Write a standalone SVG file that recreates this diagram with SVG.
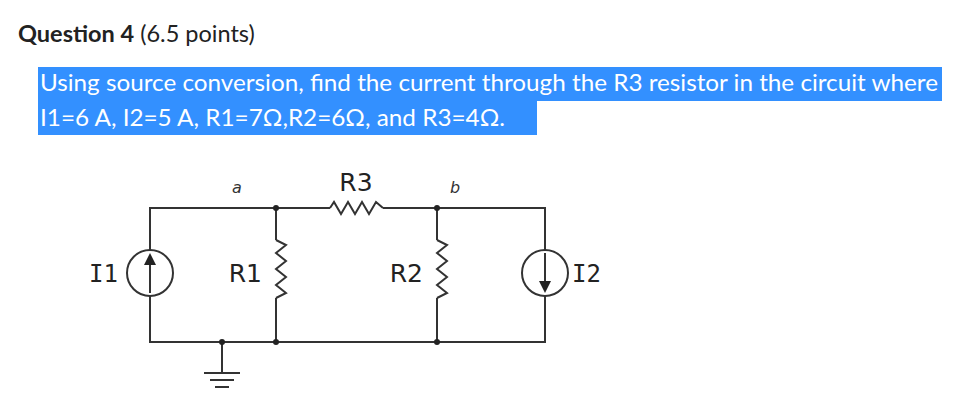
<svg xmlns="http://www.w3.org/2000/svg" width="980" height="403" viewBox="0 0 980 403">
<style>
.w{fill:none;stroke:#333;stroke-width:2}
.lbl{font-family:"DejaVu Sans",sans-serif;font-size:25px;fill:#222}
.mono{font-family:"DejaVu Sans Mono",monospace;font-size:24px;fill:#222}
.q{font-family:Lato,"Liberation Sans",sans-serif;font-size:23.5px}
</style>
<rect width="980" height="403" fill="#fff"/>
<text x="18" y="42" class="q" fill="#222"><tspan font-weight="bold">Question 4</tspan> (6.5 points)</text>
<rect x="38" y="67" width="904" height="34" fill="#3390ff"/>
<rect x="38" y="100" width="499" height="35" fill="#3390ff"/>
<text x="40" y="91" class="q" fill="#fff" textLength="898" lengthAdjust="spacingAndGlyphs">Using source conversion, find the current through the R3 resistor in the circuit where</text>
<text x="40" y="126" class="q" fill="#fff" textLength="465" lengthAdjust="spacingAndGlyphs">I1=6 A, I2=5 A, R1=7Ω,R2=6Ω, and R3=4Ω.</text>
<g id="connectors">
<path class="w" d="M150,250V208H330M383,208H545V250M150,296V342H545V296M276,208V240M276,298V342M437,208V240M437,298V342M222,342V373"/>
</g>
<g id="R3"><path class="w" d="M330,208l4,-6l7,12l7,-12l7,12l7,-12l7,12l7,-12l7,6"/><text x="356" y="191" class="lbl" text-anchor="middle">R3</text></g>
<g id="R1"><path class="w" d="M276,240l10,5l-10,8l10,8l-10,8l10,8l-10,8l10,8l-10,5"/><text x="262" y="282" class="lbl" text-anchor="end">R1</text></g>
<g id="R2"><path class="w" d="M437,240l10,5l-10,8l10,8l-10,8l10,8l-10,8l10,8l-10,5"/><text x="423" y="282" class="lbl" text-anchor="end">R2</text></g>
<g id="I1"><circle class="w" cx="150" cy="273" r="23"/><path class="w" d="M150,293V262"/><path d="M144,265L150,253L156,265Z" fill="#222"/><text x="89" y="282" class="mono">I1</text></g>
<g id="I2"><circle class="w" cx="545" cy="273" r="23"/><path class="w" d="M545,253V284"/><path d="M539,281L545,293L551,281Z" fill="#222"/><text x="572" y="282" class="mono">I2</text></g>
<g id="a"><circle cx="276" cy="208" r="3" fill="#222"/><text x="232" y="193" font-family="DejaVu Sans" font-style="italic" font-size="16" fill="#333">a</text></g>
<g id="b"><circle cx="437" cy="208" r="3" fill="#222"/><text x="450" y="193" font-family="DejaVu Sans" font-style="italic" font-size="16" fill="#333">b</text></g>
<circle cx="276" cy="342" r="3" fill="#222"/><circle cx="437" cy="342" r="3" fill="#222"/>
<g id="gnd"><circle cx="222" cy="342" r="3" fill="#222"/><path class="w" d="M204,373H240M210,380H234M215,387H229"/></g>
</svg>
